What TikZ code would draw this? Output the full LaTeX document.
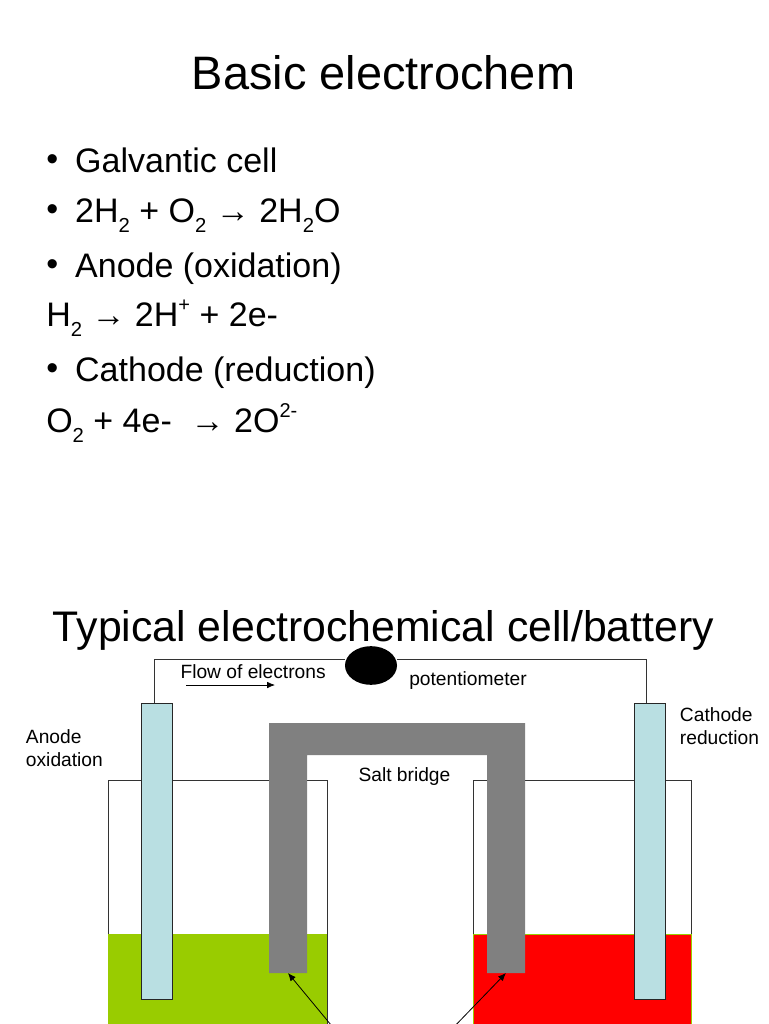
\documentclass[tikz,border=0pt]{standalone}
\usepackage{fontspec}
\setmainfont{Liberation Sans}
\usepackage{tikz}
\usetikzlibrary{shapes.geometric,arrows.meta}
\definecolor{elecblue}{HTML}{B9DFE2}
\definecolor{anolyte}{HTML}{99CC00}
\definecolor{bridgegray}{HTML}{808080}
\newcommand{\lowtxt}[1]{\raisebox{-.32em}{\fontsize{15.2}{15.2}\selectfont #1}}
\newcommand{\hightxt}[1]{\raisebox{.42em}{\fontsize{15}{15}\selectfont #1}}
\newcommand{\bul}{\makebox[21.7pt][l]{\raisebox{.03em}{•}}}
\tikzset{%
  titletxt/.style={anchor=base,inner sep=0,font=\fontsize{35.2}{40}\selectfont},
  bodytxt/.style={anchor=base west,inner sep=0,font=\fontsize{25.5}{30}\selectfont},
  smalltxt/.style={anchor=base west,inner sep=0,align=left,font=\fontsize{14.4}{17.3}\selectfont},
  elec/.style={draw=black!85,fill=elecblue,line width=.75pt,inner sep=0,minimum width=23.6pt,minimum height=222pt},
  pot/.style={shape=ellipse,fill=black,inner sep=0,minimum width=39pt,minimum height=29pt},
  wire/.style={draw=black!80,line width=.75pt},
  ptr/.style={draw=black,line width=.6pt,-{Latex[length=6pt,width=5pt]}}
}

\begin{document}
\begin{tikzpicture}[x=.75pt,y=-.75pt]
      \useasboundingbox (0,0) rectangle (768,1024);
      \clip (0,0) rectangle (768,1024);
      \path
        (383.5,89.5) node (title_1)[titletxt]{Basic electrochem}
        (383.5,641) node (title_2)[titletxt,font=\fontsize{32.1}{38}\selectfont]{Typical electrochemical cell/battery}
        (46,172) node (line_1)[bodytxt]{\bul Galvantic cell}
        (46,222) node (line_2)[bodytxt]{\bul 2H\lowtxt{2} + O\lowtxt{2} → 2H\lowtxt{2}O}
        (46,277) node (line_3)[bodytxt]{\bul Anode (oxidation)}
        (46,326) node (line_4)[bodytxt]{H\lowtxt{2} → 2H\hightxt{+} + 2e-}
        (46,381) node (line_5)[bodytxt]{\bul Cathode (reduction)}
        (46,432) node (line_6)[bodytxt]{O\lowtxt{2} + 4e-\ \ → 2O\hightxt{2-}};
      % beakers
      \draw[wire] (108,1030) |- (327,780.5) -- (327,1030);
      \draw[wire] (473,1030) |- (691.5,780.5) -- (691.5,1030);
      \fill[anolyte] (108,934) rectangle (327,1030);
      \filldraw[fill=red,draw=anolyte,line width=.5pt] (473.5,934) rectangle (691.5,1030);
      % salt bridge
      \fill[bridgegray] (269,973) -- (269,723) -- (525,723) -- (525,973)
        -- (487,973) -- (487,755) -- (307,755) -- (307,973) -- cycle;
      \path
        (157,851) node (anode)[elec]{}
        (650,851) node (cathode)[elec]{}
        (371,665.5) node (meter)[pot]{}
        (154,703) coordinate (wire_1)
        (345,659) coordinate (wire_2)
        (397,659) coordinate (wire_3)
        (646,703) coordinate (wire_4)
        (186,685) coordinate (flow_1)
        (275,685) coordinate (flow_2)
        (288,973) coordinate (leg_1)
        (506,973) coordinate (leg_2)
        (336,1031) coordinate (tail_1)
        (450,1031) coordinate (tail_2);
      \draw[wire] (wire_1) |- (wire_2);
      \draw[wire] (wire_4) |- (wire_3);
      \draw[ptr] (flow_1) -- (flow_2);
      \draw[ptr] (tail_1) -- (leg_1);
      \draw[ptr] (tail_2) -- (leg_2);
      \path
        (180.3,678) node (flow_txt)[smalltxt]{Flow of electrons}
        (409,685) node (meter_txt)[smalltxt]{potentiometer}
        (358.3,781) node (bridge_txt)[smalltxt]{Salt bridge}
        (25.7,745) node (anode_txt)[smalltxt,anchor=north west,yshift=12pt]{Anode\\oxidation}
        (679.7,723) node (cathode_txt)[smalltxt,anchor=north west,yshift=12pt]{Cathode\\reduction};
    \end{tikzpicture}
\end{document}
